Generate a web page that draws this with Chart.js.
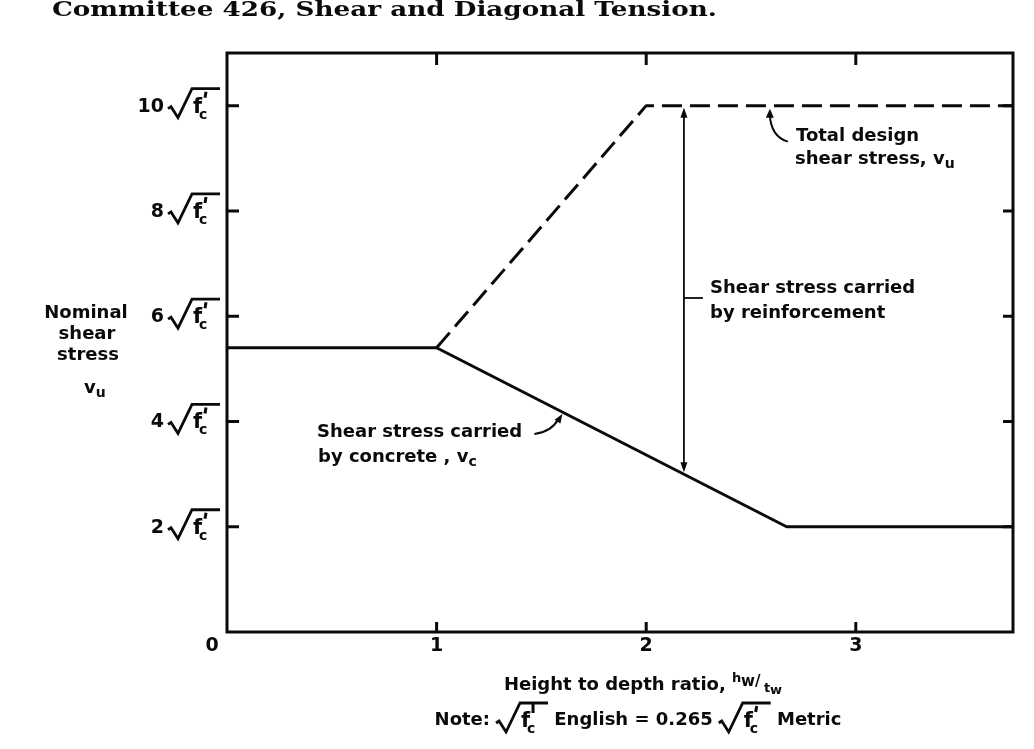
<!DOCTYPE html>
<html>
<head>
<meta charset="utf-8">
<script src="https://cdn.jsdelivr.net/npm/chart.js@4.4.1/dist/chart.umd.min.js"></script>
<style>
    html, body { margin: 0; padding: 0; background: #fff; }
    #wrap { width: 1034px; height: 749px; }
</style>
</head>
<body>
<div id="wrap"><canvas id="shear-chart" width="1034" height="749"></canvas></div>
<script>
// values (x = hw/lw, y = multiples of sqrt(f'c))
const concreteX = [0, 1, 2.67, 3.75];
const concreteY = [5.4, 5.4, 2, 2];
const totalX = [1, 2, 3.75];
const totalY = [5.4, 10, 10];
const yTicks = [2, 4, 6, 8, 10];
const xTicks = [0, 1, 2, 3];
const reinfX = 2.18;     // where the "carried by reinforcement" arrow sits
const totalLeadX = 2.59; // leader of "Total design shear stress"
const concLeadX = 1.6;   // leader of "Shear stress carried by concrete"

const FONT = '"DejaVu Sans", "Liberation Sans", sans-serif';
const INK = '#0a0a0a';
const font = (s) => `bold ${s}px ${FONT}`;

function concreteAt(v) {
    for (let i = 1; i < concreteX.length; i++) {
        if (v <= concreteX[i]) {
            const t = (v - concreteX[i - 1]) / (concreteX[i] - concreteX[i - 1]);
            return concreteY[i - 1] + t * (concreteY[i] - concreteY[i - 1]);
        }
    }
    return concreteY[concreteY.length - 1];
}

// radical sign with f'c under it; x = left of the sign, y = text middle
function drawRoot(ctx, x, y, w, tee) {
    ctx.save();
    ctx.strokeStyle = INK; ctx.fillStyle = INK;
    ctx.lineWidth = 2.8;
    ctx.lineJoin = 'miter';
    ctx.beginPath();
    ctx.moveTo(x, y + 3);
    ctx.lineTo(x + 3, y + 1);
    ctx.lineTo(x + 10, y + 12);
    ctx.lineTo(x + 24, y - 17);
    ctx.lineTo(x + w, y - 17);
    ctx.stroke();
    ctx.textAlign = 'left'; ctx.textBaseline = 'alphabetic';
    ctx.font = font(21);
    ctx.fillText('f', x + 25, y + 7);
    ctx.font = font(14);
    ctx.fillText('c', x + 31, y + 13);
    ctx.lineWidth = 3;
    ctx.beginPath();
    if (tee) {
        ctx.moveTo(x + 37, y - 17); ctx.lineTo(x + 37, y - 7);
    } else {
        ctx.moveTo(x + 38, y - 14); ctx.lineTo(x + 37, y - 8);
    }
    ctx.stroke();
    ctx.restore();
}

function arrowHead(ctx, x, y, ang, len, half) {
    ctx.save();
    ctx.translate(x, y); ctx.rotate(ang);
    ctx.beginPath();
    ctx.moveTo(0, 0); ctx.lineTo(-len, -half); ctx.lineTo(-len, half);
    ctx.closePath(); ctx.fill();
    ctx.restore();
}

// text with a subscript letter, e.g. v_u
function textSub(ctx, main, sub, x, y, size) {
    ctx.textAlign = 'left'; ctx.textBaseline = 'middle';
    ctx.font = font(size);
    ctx.fillText(main, x, y);
    const w = ctx.measureText(main).width;
    ctx.font = font(Math.round(size * 0.75));
    ctx.fillText(sub, x + w, y + 5);
}

const overlay = {
    id: 'overlay',
    afterDatasetsDraw(chart) {
        const { ctx, chartArea: a, scales: { x, y } } = chart;
        ctx.save();
        ctx.strokeStyle = INK; ctx.fillStyle = INK;

        // frame
        ctx.lineWidth = 3;
        ctx.strokeRect(a.left, a.top, a.right - a.left, a.bottom - a.top);

        // inward ticks
        ctx.beginPath();
        yTicks.forEach(v => {
            const py = y.getPixelForValue(v);
            ctx.moveTo(a.left, py); ctx.lineTo(a.left + 12, py);
            ctx.moveTo(a.right, py); ctx.lineTo(a.right - 10, py);
        });
        xTicks.slice(1).forEach(v => {
            const px = x.getPixelForValue(v);
            ctx.moveTo(px, a.bottom); ctx.lineTo(px, a.bottom - 10);
            ctx.moveTo(px, a.top); ctx.lineTo(px, a.top + 12);
        });
        ctx.stroke();

        // y tick labels  n sqrt(f'c)
        yTicks.forEach(v => {
            const py = y.getPixelForValue(v);
            ctx.font = font(19);
            ctx.textAlign = 'right'; ctx.textBaseline = 'middle';
            ctx.fillText(String(v), a.left - 63, py + 1);
            drawRoot(ctx, a.left - 59, py, 52, false);
        });

        // x tick labels
        ctx.font = font(19);
        ctx.textAlign = 'center'; ctx.textBaseline = 'middle';
        xTicks.forEach(v => {
            const px = v === 0 ? a.left - 15 : x.getPixelForValue(v);
            ctx.fillText(String(v), px, a.bottom + 14);
        });

        // y title
        ctx.font = font(18);
        ctx.textAlign = 'center';
        ctx.fillText('Nominal', 86, 313);
        ctx.fillText('shear', 87, 334);
        ctx.fillText('stress', 88, 355);
        textSub(ctx, 'v', 'u', 84, 388, 18);

        // x title
        ctx.font = font(18);
        ctx.textAlign = 'left'; ctx.textBaseline = 'middle';
        const xt = 'Height to depth ratio, ';
        const xtw = ctx.measureText(xt).width;
        const x0 = 648 - (xtw + 60) / 2;
        ctx.fillText(xt, x0, 685);
        ctx.font = font(13);
        ctx.fillText('h', x0 + xtw, 679);
        ctx.font = font(15);
        ctx.fillText('w/', x0 + xtw + 9, 682);
        ctx.font = font(13);
        ctx.fillText('t', x0 + xtw + 32, 689);
        ctx.fillText('w', x0 + xtw + 38, 691);

        // note line
        ctx.font = font(18);
        const p1 = 'Note:', p2 = ' English = 0.265', p3 = ' Metric';
        const w1 = ctx.measureText(p1).width, w2 = ctx.measureText(p2).width, w3 = ctx.measureText(p3).width;
        const rw = 52;
        let nx = 638 - (w1 + 6 + rw + w2 + 6 + rw + w3) / 2;
        const ny = 720;
        ctx.textAlign = 'left';
        ctx.fillText(p1, nx, ny); nx += w1 + 6;
        drawRoot(ctx, nx, ny, rw, true); nx += rw;
        ctx.font = font(18);
        ctx.fillText(p2, nx, ny); nx += w2 + 6;
        drawRoot(ctx, nx, ny, rw, false); nx += rw;
        ctx.font = font(18);
        ctx.fillText(p3, nx, ny);

        // reinforcement arrow
        const rx = x.getPixelForValue(reinfX);
        const rTop = y.getPixelForValue(totalY[totalY.length - 1]) + 2;
        const rBot = y.getPixelForValue(concreteAt(reinfX)) - 2;
        ctx.lineWidth = 1.8;
        ctx.beginPath(); ctx.moveTo(rx, rTop + 6); ctx.lineTo(rx, rBot - 6); ctx.stroke();
        arrowHead(ctx, rx, rTop, -Math.PI / 2, 10, 3.5);
        arrowHead(ctx, rx, rBot, Math.PI / 2, 10, 3.5);
        ctx.beginPath(); ctx.moveTo(rx, 298); ctx.lineTo(rx + 19, 298); ctx.stroke();
        ctx.font = font(18);
        ctx.textBaseline = 'middle';
        ctx.fillText('Shear stress carried', 710, 288);
        ctx.fillText('by reinforcement', 710, 313);

        // total design leader
        const tx = x.getPixelForValue(totalLeadX);
        const ty = y.getPixelForValue(totalY[totalY.length - 1]) + 3;
        ctx.lineWidth = 2;
        ctx.beginPath(); ctx.moveTo(tx, ty + 6); ctx.quadraticCurveTo(tx + 1, ty + 28, tx + 18, ty + 33); ctx.stroke();
        arrowHead(ctx, tx, ty, -Math.PI / 2, 9, 4);
        ctx.font = font(18);
        ctx.fillText('Total design', 796, 136);
        textSub(ctx, 'shear stress, v', 'u', 795, 159, 18);

        // concrete leader
        const cx = x.getPixelForValue(concLeadX);
        const cy = y.getPixelForValue(concreteAt(concLeadX)) + 2;
        ctx.lineWidth = 2;
        ctx.beginPath(); ctx.moveTo(cx - 28, cy + 20); ctx.quadraticCurveTo(cx - 11, cy + 18, cx - 4, cy + 5); ctx.stroke();
        arrowHead(ctx, cx, cy, -1.0, 9, 3.5);
        ctx.font = font(18);
        ctx.fillText('Shear stress carried', 317, 432);
        textSub(ctx, 'by concrete , v', 'c', 318, 457, 18);

        // caption line above the figure, cut at the top of the page
        ctx.font = 'bold 21px "DejaVu Serif", "Liberation Serif", serif';
        ctx.textBaseline = 'alphabetic';
        const cap = 'Committee 426, Shear and Diagonal Tension.';
        const cw = ctx.measureText(cap).width;
        ctx.translate(52, 16);
        ctx.scale(665 / cw, 1);
        ctx.fillText(cap, 0, 0);
        ctx.restore();
    }
};

new Chart(document.getElementById('shear-chart').getContext('2d'), {
    type: 'line',
    data: {
        datasets: [
            {
                label: 'Shear stress carried by concrete',
                data: concreteX.map((v, i) => ({ x: v, y: concreteY[i] })),
                borderColor: INK, borderWidth: 3, pointRadius: 0, tension: 0,
                borderJoinStyle: 'round'
            },
            {
                label: 'Total design shear stress',
                data: totalX.map((v, i) => ({ x: v, y: totalY[i] })),
                borderColor: INK, borderWidth: 3, pointRadius: 0, tension: 0,
                borderDash: [20, 8], borderJoinStyle: 'round'
            }
        ]
    },
    options: {
        responsive: false,
        animation: false,
        layout: { padding: { left: 227, top: 53, right: 21, bottom: 117 } },
        scales: {
            x: { type: 'linear', min: 0, max: 3.75, display: false },
            y: { type: 'linear', min: 0, max: 11, display: false }
        },
        plugins: { legend: { display: false }, tooltip: { enabled: false } }
    },
    plugins: [overlay]
});
</script>
</body>
</html>
